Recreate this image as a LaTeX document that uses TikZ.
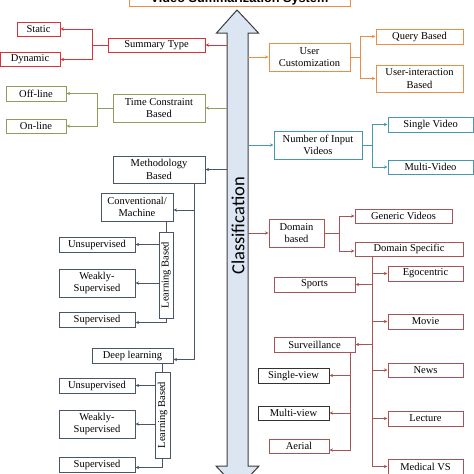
\documentclass[tikz,border=0pt]{standalone}
\usepackage{fontspec}
\setmainfont{Liberation Serif}
\newfontfamily\titlefont{Liberation Sans}
\newfontfamily\clsfont{Carlito}
\usetikzlibrary{arrows.meta}
\definecolor{cRed}{RGB}{222,48,52}
\definecolor{cOlive}{RGB}{140,158,92}
\definecolor{cSlate}{RGB}{72,86,104}
\definecolor{cOrange}{RGB}{232,142,72}
\definecolor{cTeal}{RGB}{70,152,172}
\definecolor{cBrown}{RGB}{166,84,86}
\definecolor{cDark}{RGB}{50,50,50}
\definecolor{cShaft}{RGB}{220,230,242}
\definecolor{cShaftLine}{RGB}{60,60,64}
\tikzset{
  bx/.style={draw=#1, line width=1pt, fill=white, inner sep=0pt, align=center,
    font=\fontsize{10.5}{12.5}\selectfont},
  ln/.style={draw=#1, line width=0.8pt},
  arr/.style={draw=#1, line width=0.8pt, -{Stealth[length=3.5pt,width=3.2pt]}},
}
\begin{document}
\begin{tikzpicture}[x=1pt,y=-1pt]
\useasboundingbox (0,0) rectangle (474,474);
\clip (0,0) rectangle (474,474);
% title
\node[draw=cOrange, line width=1pt, minimum width=221pt, minimum height=30pt, anchor=south, inner sep=0pt] (titlebox) at (239.5,6.5) {};
\node[anchor=base, font=\titlefont\bfseries\fontsize{12.7}{14}\selectfont, inner sep=0pt] (title) at (239.5,2.5) {Video Summarization System};
% central double arrow
\node[minimum width=21pt, minimum height=433pt, inner sep=0pt] (shaft) at (237.5,249.5) {};
\draw[draw=cShaftLine, fill=cShaft, line width=1pt] (237,10) -- (258.5,33) -- (248,33) -- (248,466) -- (259,466) -- (237.5,489) -- (216,466) -- (227,466) -- (227,33) -- (216.5,33) -- cycle;
\node[rotate=90, font=\clsfont\fontsize{18.5}{20}\selectfont, inner sep=0pt] (cls) at (238,226) {Classification};

% ---------- left side ----------
\node[bx=cRed, minimum width=43pt, minimum height=14pt] (stat) at (38.5,29) {Static};
\node[bx=cRed, minimum width=60pt, minimum height=14pt] (dyn) at (30,59.5) {Dynamic};
\node[bx=cRed, minimum width=97pt, minimum height=14pt] (sum) at (156.5,45) {Summary Type};

\node[bx=cOlive, minimum width=60pt, minimum height=15pt] (off) at (36,93.5) {Off-line};
\node[bx=cOlive, minimum width=60pt, minimum height=14pt] (on) at (36,126) {On-line};
\node[bx=cOlive, minimum width=92pt, minimum height=28pt] (tcb) at (159,108) {Time Constraint\\Based};

\node[bx=cSlate, minimum width=92pt, minimum height=27pt] (meth) at (159,169.5) {Methodology\\Based};
\node[bx=cSlate, minimum width=72pt, minimum height=28pt] (conv) at (137,207) {Conventional/\\Machine};
\node[bx=cSlate, minimum width=86pt, minimum height=14pt, rotate=90] (lb1) at (166,275) {Learning Based};
\node[bx=cSlate, minimum width=76pt, minimum height=15pt] (uns1) at (97,244.5) {Unsupervised};
\node[bx=cSlate, minimum width=76pt, minimum height=28pt] (wk1) at (97,283) {Weakly-\\Supervised};
\node[bx=cSlate, minimum width=76pt, minimum height=15pt] (sup1) at (97,319.5) {Supervised};

\node[bx=cSlate, minimum width=81pt, minimum height=15pt] (deep) at (132.5,355.5) {Deep learning};
\node[bx=cSlate, minimum width=86pt, minimum height=15pt, rotate=90] (lb2) at (162.5,415) {Learning Based};
\node[bx=cSlate, minimum width=76pt, minimum height=15pt] (uns2) at (97,385.5) {Unsupervised};
\node[bx=cSlate, minimum width=76pt, minimum height=28pt] (wk2) at (97,424) {Weakly-\\Supervised};
\node[bx=cSlate, minimum width=76pt, minimum height=15pt] (sup2) at (97,464.5) {Supervised};

% ---------- right side ----------
\node[bx=cOrange, minimum width=81pt, minimum height=28pt] (uc) at (309.5,57) {User\\Customization};
\node[bx=cOrange, minimum width=87pt, minimum height=15pt] (qb) at (419.5,36.5) {Query Based};
\node[bx=cOrange, minimum width=87pt, minimum height=27pt] (uib) at (419.5,78.5) {User-interaction\\Based};

\node[bx=cTeal, minimum width=88pt, minimum height=28pt] (niv) at (318,145) {Number of Input\\Videos};
\node[bx=cTeal, minimum width=85pt, minimum height=15pt] (sv) at (430.5,124.5) {Single Video};
\node[bx=cTeal, minimum width=85pt, minimum height=14pt] (mv) at (430.5,167) {Multi-Video};

\node[bx=cBrown, minimum width=55pt, minimum height=28pt] (db) at (296.5,233) {Domain\\based};
\node[bx=cBrown, minimum width=97pt, minimum height=14pt] (gv) at (403.5,216) {Generic Videos};
\node[bx=cBrown, minimum width=108pt, minimum height=14pt] (ds) at (409,249) {Domain Specific};
\node[bx=cBrown, minimum width=75pt, minimum height=15pt] (ego) at (425.5,273.5) {Egocentric};
\node[bx=cBrown, minimum width=81pt, minimum height=15pt] (sports) at (314.5,284.5) {Sports};
\node[bx=cBrown, minimum width=75pt, minimum height=15pt] (movie) at (425.5,321.5) {Movie};
\node[bx=cBrown, minimum width=81pt, minimum height=15pt] (surv) at (314.5,344.5) {Surveillance};
\node[bx=cBrown, minimum width=75pt, minimum height=14pt] (news) at (425.5,370) {News};
\node[bx=cBrown, minimum width=75pt, minimum height=15pt] (lect) at (425.5,418.5) {Lecture};
\node[bx=cBrown, minimum width=75pt, minimum height=15pt] (med) at (425.5,466.5) {Medical VS};
\node[bx=cDark, minimum width=71pt, minimum height=15pt] (sview) at (293.5,375.5) {Single-view};
\node[bx=cDark, minimum width=71pt, minimum height=14pt] (mview) at (293.5,413) {Multi-view};
\node[bx=cBrown, minimum width=60pt, minimum height=14pt] (aer) at (299,446) {Aerial};

% ---------- connectors, left ----------
\draw[arr=cRed] (shaft.west |- sum) -- (sum);
\coordinate (jsum) at (92,45);
\draw[arr=cRed] (sum.west) -- (jsum) |- (stat);
\draw[arr=cRed] (jsum) |- (dyn);

\draw[arr=cOlive] (shaft.west |- tcb) -- (tcb);
\coordinate (jtc) at (97,108);
\draw[arr=cOlive] (tcb.west) -- (jtc) |- (off);
\draw[arr=cOlive] (jtc) |- (on);

\draw[arr=cSlate] (shaft.west |- meth) -- (meth);
\coordinate (jm) at (194,183);
\draw[arr=cSlate] (jm) |- ([yshift=-3pt]conv.east);
\draw[arr=cSlate] (jm) |- ([yshift=-4pt]deep.east);

% rotated boxes: east = top, west = bottom, north = left side
\draw[ln=cSlate] (lb1.east |- conv.south) -- (lb1.east);
\draw[arr=cSlate] (lb1.north |- uns1) -- (uns1);
\draw[arr=cSlate] (lb1.north |- wk1) -- (wk1);
\draw[arr=cSlate] (lb1.west) |- ([yshift=-3pt]sup1.east);

\draw[ln=cSlate] (lb2.east |- deep.south) -- (lb2.east);
\draw[arr=cSlate] (lb2.north |- uns2) -- (uns2);
\draw[arr=cSlate] (lb2.north |- wk2) -- (wk2);
\draw[arr=cSlate] (lb2.west) |- ([yshift=-3pt]sup2.east);

% ---------- connectors, right ----------
\draw[arr=cOrange] (shaft.east |- uc) -- (uc);
\draw[arr=cOrange] (uc.east) -- ++(10,0) coordinate (juc) |- (qb);
\draw[arr=cOrange] (juc) |- (uib);

\draw[arr=cTeal] (shaft.east |- niv) -- (niv);
\draw[arr=cTeal] (niv.east) -- ++(10,0) coordinate (jniv) |- (sv);
\draw[arr=cTeal] (jniv) |- (mv);

\draw[arr=cBrown] (shaft.east |- db) -- (db);
\draw[arr=cBrown] (db.east) -- ++(15,0) coordinate (jdb) |- (gv);
\draw[arr=cBrown] (jdb) |- ([yshift=-2pt]ds.west);

\coordinate (jds) at (372,256);
\draw[arr=cBrown] (jds) |- (med);
\draw[arr=cBrown] (jds |- ego) -- (ego);
\draw[arr=cBrown] (jds |- sports) -- (sports);
\draw[arr=cBrown] (jds |- movie) -- (movie);
\draw[arr=cBrown] (jds |- surv) -- (surv);
\draw[arr=cBrown] (jds |- news) -- (news);
\draw[arr=cBrown] (jds |- lect) -- (lect);

\coordinate (jsv) at (350,352);
\draw[arr=cBrown] (jsv) |- ([yshift=-4pt]aer.east);
\draw[arr=cBrown] (jsv |- sview) -- (sview);
\draw[arr=cBrown] (jsv |- mview) -- (mview);
\end{tikzpicture}
\end{document}
